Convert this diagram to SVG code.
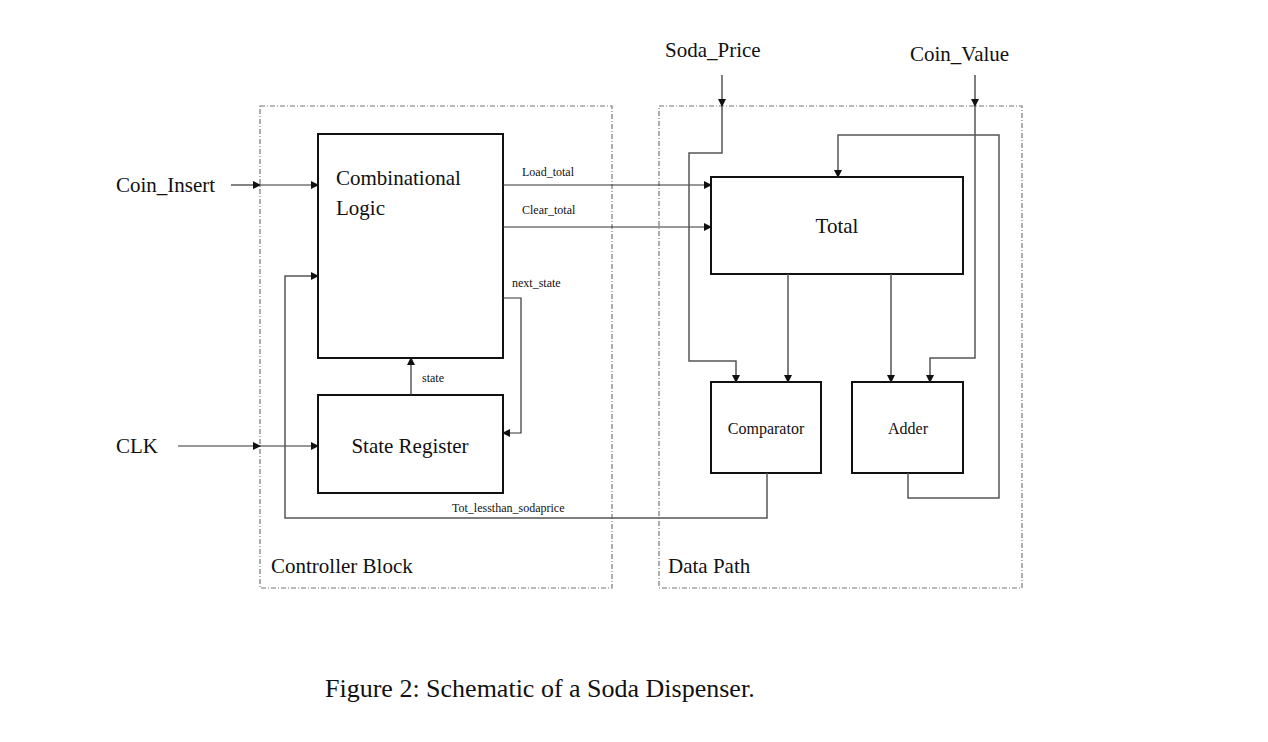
<svg xmlns="http://www.w3.org/2000/svg" width="1268" height="742" viewBox="0 0 1268 742">
<style>
text{font-family:"Liberation Serif","Times New Roman","DejaVu Serif",serif;fill:#111}
.b{fill:#fff;stroke:#111;stroke-width:2}
.d{fill:none;stroke:#777;stroke-width:1.2;stroke-dasharray:5,2,1,2}
.w{fill:none;stroke:#333;stroke-width:1.2}
.g{fill:none;stroke:#555;stroke-width:1.5}
.s{font-size:12px}
</style>
<defs><marker id="a" markerWidth="8" markerHeight="8" refX="7" refY="4" orient="auto" markerUnits="userSpaceOnUse"><path d="M0,0L8,4L0,8z" fill="#111"/></marker></defs>
<rect width="1268" height="742" fill="#fff"/>
<g id="controller"><rect class="d" x="260" y="106" width="352" height="482"/><text x="271" y="573" font-size="21" font-family="Liberation Serif, serif">Controller Block</text></g>
<g id="datapath"><rect class="d" x="659" y="106" width="363" height="482"/><text x="668" y="573" font-size="21" font-family="Liberation Serif, serif">Data Path</text></g>
<g id="comb"><rect class="b" x="318" y="134" width="185" height="224"/><text x="336" y="185" font-size="21" font-family="Liberation Serif, serif">Combinational</text><text x="336" y="215" font-size="21" font-family="Liberation Serif, serif">Logic</text></g>
<g id="statereg"><rect class="b" x="318" y="395" width="185" height="98"/><text x="410" y="453" font-size="21" text-anchor="middle" font-family="Liberation Serif, serif">State Register</text></g>
<g id="total"><rect class="b" x="711" y="177" width="252" height="97"/><text x="837" y="233" font-size="21" text-anchor="middle" font-family="Liberation Serif, serif">Total</text></g>
<g id="comparator"><rect class="b" x="711" y="382" width="110" height="91"/><text x="766" y="434" font-size="16" text-anchor="middle" font-family="Liberation Serif, serif">Comparator</text></g>
<g id="adder"><rect class="b" x="852" y="382" width="111" height="91"/><text x="908" y="434" font-size="16" text-anchor="middle" font-family="Liberation Serif, serif">Adder</text></g>
<g id="labels" font-family="Liberation Serif, serif">
<text x="116" y="192" font-size="21" font-family="Liberation Serif, serif">Coin_Insert</text>
<text x="116" y="453" font-size="21" font-family="Liberation Serif, serif">CLK</text>
<text x="665" y="57" font-size="21" font-family="Liberation Serif, serif">Soda_Price</text>
<text x="910" y="61" font-size="21" font-family="Liberation Serif, serif">Coin_Value</text>
<text x="325" y="697" font-size="26" font-family="Liberation Serif, serif">Figure 2: Schematic of a Soda Dispenser.</text>
</g>
<g id="connectors" font-family="Liberation Serif, serif">
<path class="w" d="M231,185H260" marker-end="url(#a)"/><path class="w" d="M260,185H318" marker-end="url(#a)"/>
<path class="w" d="M178,446H260" marker-end="url(#a)"/><path class="w" d="M260,446H318" marker-end="url(#a)"/>
<path class="w" d="M503,185H711" marker-end="url(#a)"/><text class="s" x="522" y="176" font-family="Liberation Serif, serif">Load_total</text>
<path class="w" d="M503,227H711" marker-end="url(#a)"/><text class="s" x="522" y="214" font-family="Liberation Serif, serif">Clear_total</text>
<path class="w" d="M503,298H521V433H503" marker-end="url(#a)"/><text class="s" x="512" y="287" font-family="Liberation Serif, serif">next_state</text>
<path class="w" d="M411,395V358" marker-end="url(#a)"/><text class="s" x="422" y="382" font-family="Liberation Serif, serif">state</text>
<path class="g" d="M767,473V518H285V276H318" marker-end="url(#a)"/><text class="s" x="452" y="512" font-family="Liberation Serif, serif">Tot_lessthan_sodaprice</text>
<path class="g" d="M722,75V106" marker-end="url(#a)"/><path class="g" d="M722,106V153H689V361H736V382" marker-end="url(#a)"/>
<path class="g" d="M975,75V106" marker-end="url(#a)"/><path class="g" d="M975,106V358H930V382" marker-end="url(#a)"/>
<path class="g" d="M788,274V382" marker-end="url(#a)"/>
<path class="g" d="M891,274V382" marker-end="url(#a)"/>
<path class="g" d="M908,473V498H999V135H838V177" marker-end="url(#a)"/>
</g>
</svg>
